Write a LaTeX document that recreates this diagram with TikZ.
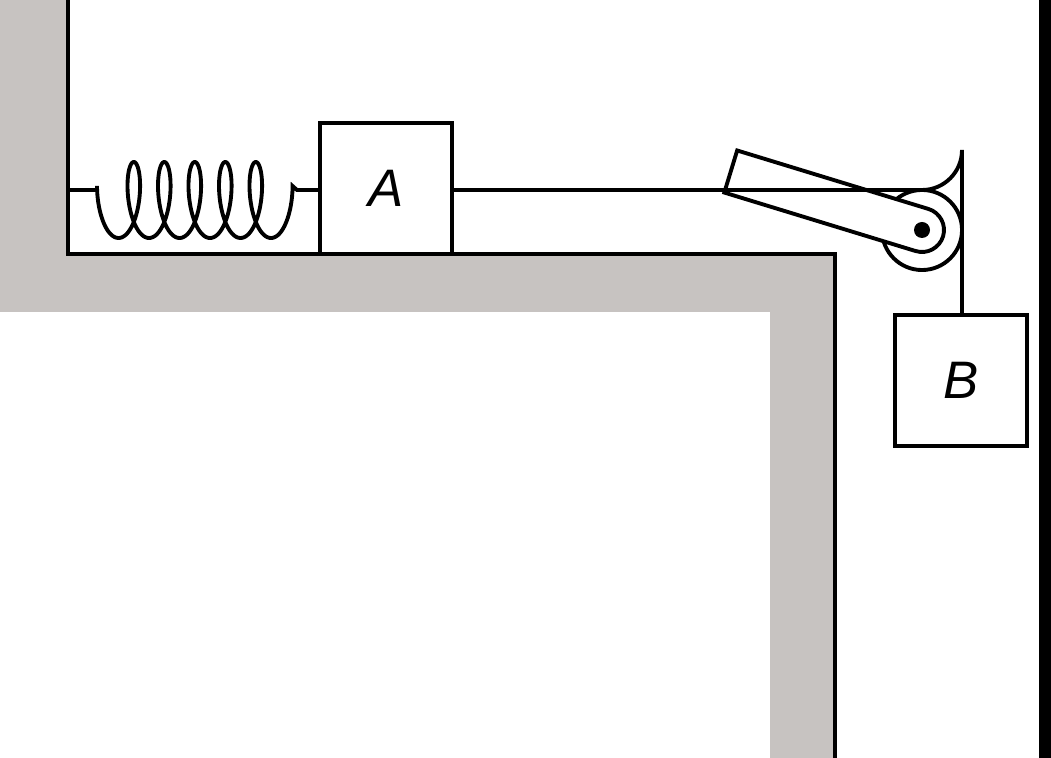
\documentclass[tikz,border=0pt]{standalone}
\usepackage{fontspec}
\setmainfont{Liberation Sans}
\begin{document}
\begin{tikzpicture}[x=0.01cm,y=-0.01cm,line width=1.1pt,
  blk/.style={draw,fill=white,minimum width=1.32cm,minimum height=1.31cm,inner sep=0,font=\fontsize{15}{15}\selectfont\itshape}]
\useasboundingbox (0,0) rectangle (1051,758);
\definecolor{wallgray}{RGB}{199,195,193}
% pulley wheel
\node[draw,circle,fill=white,minimum size=0.8cm,inner sep=0] (P) at (922,230) {};
% arm
\draw[fill=white] (922,230) ++(107:22) arc[start angle=107,end angle=-73,radius=22] -- ++(197:200) -- ++(107:44) -- cycle;
\fill (922,230) circle[radius=8];
% wall
\fill[wallgray] (0,0) -- (68,0) -- (68,254) -- (835,254) -- (835,758) -- (770,758) -- (770,312) -- (0,312) -- cycle;
\draw (68,0) -- (68,254) -- (835,254) -- (835,758);
\fill (1039,0) rectangle (1051,758);
% blocks
\node[blk] (A) at (386,188.5) {A};
\node[blk] (B) at (961,380.5) {B};
% rope
\coordinate (t1) at (922,190);
\draw (A.east |- t1) -- (t1) arc[start angle=90,end angle=0,radius=40] -- (B.north -| 962,0);
% spring
\draw (68,190) -- (97,190) -- plot[domain=1.19:36.51,samples=500,variable=\t] ({103.3+4.854*\t-13*sin(\t r)},{200-38*cos(\t r)}) -- (297,190) -- (A.west |- 0,190);
\end{tikzpicture}
\end{document}
